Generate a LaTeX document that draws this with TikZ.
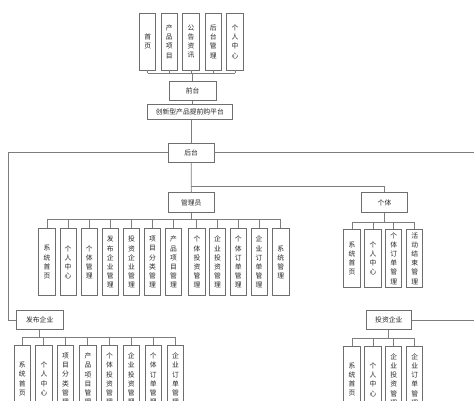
\documentclass[tikz,border=0pt]{standalone}
\usepackage{fontspec}
\newfontfamily\cjk{Noto Sans CJK SC}
\definecolor{linec}{RGB}{125,125,125}
\definecolor{boxc}{RGB}{110,110,110}
\begin{document}
\begin{tikzpicture}[x=1pt,y=-1pt,
  vbox/.style={draw=boxc,line width=0.8pt,minimum width=16.3pt,inner sep=0pt,align=center,anchor=north,
    text=black!85,font=\cjk\fontsize{6.8}{9.2}\selectfont},
  hbox/.style={draw=boxc,line width=0.8pt,inner sep=0pt,align=center,
    text=black!85,font=\cjk\fontsize{6.8}{8}\selectfont},
  conn/.style={draw=linec,line width=0.9pt}]
\useasboundingbox (0,0) rectangle (474,401);
\fill[white] (0,0) rectangle (474,401);

% top row
\foreach \n/\x/\t in {t1/147.7/首\\页, t2/169.3/产\\品\\项\\目, t3/191/公\\告\\资\\讯, t4/213.3/后\\台\\管\\理, t5/235/个\\人\\中\\心}
  \node[vbox,minimum height=57pt] (\n) at (\x,12.7) {\t};

\node[hbox,minimum width=46.7pt,minimum height=18.3pt] (qt) at (192.7,91) {前台};
\node[hbox,minimum width=85pt,minimum height=15pt] (cx) at (189.8,111.8) {创新型产品提前购平台};
\node[hbox,minimum width=45.7pt,minimum height=19pt] (ht) at (191.2,152.8) {后台};
\node[hbox,minimum width=46pt,minimum height=19.6pt] (gly) at (191.3,202.5) {管理员};
\node[hbox,minimum width=45.6pt,minimum height=19.6pt] (gt) at (384.5,202.5) {个体};
\node[hbox,minimum width=47.3pt,minimum height=18.6pt] (fb) at (39.7,320) {发布企业};
\node[hbox,minimum width=45.7pt,minimum height=18.6pt] (tz) at (388.8,320) {投资企业};

% top connectors
\foreach \n in {t1,t2,t3,t4,t5}
  \draw[conn] (\n.south) -- (\n.south |- 0,73.3);
\draw[conn] (t1.south |- 0,73.3) -- (t5.south |- 0,73.3);
\draw[conn] (qt.north) -- (qt.north |- 0,73.3);
\draw[conn] (qt.south) -- (qt.south |- cx.north);
\draw[conn] (ht.north) -- (ht.north |- cx.south);
\draw[conn] (ht.west) -- (8.3,152.8) -- (8.3,320) -- (fb.west);
\draw[conn] (ht.east) -- (480,152.8) -- (480,320) -- (tz.east);
\draw[conn] (ht.south) -- (gly.north);
\draw[conn] (ht.south |- 0,186) -- (gt.north |- 0,186) -- (gt.north);

% admin children
\foreach \n/\x/\t in {m1/47/系\\统\\首\\页, m2/68.1/个\\人\\中\\心, m3/89.2/个\\体\\管\\理,
  m4/110.3/发\\布\\企\\业\\管\\理, m5/131.4/投\\资\\企\\业\\管\\理, m6/152.5/项\\目\\分\\类\\管\\理,
  m7/173.6/产\\品\\项\\目\\管\\理, m8/196.9/个\\体\\投\\资\\管\\理, m9/217.6/企\\业\\投\\资\\管\\理,
  m10/238.3/个\\体\\订\\单\\管\\理, m11/259.1/企\\业\\订\\单\\管\\理, m12/280.8/系\\统\\管\\理}
{
  \node[vbox,minimum height=67pt] (\n) at (\x,228.3) {\t};
  \draw[conn] (\n.north) -- (\n.north |- 0,219);
}
\draw[conn] (m1.north |- 0,219) -- (m12.north |- 0,219);
\draw[conn] (gly.south) -- (gly.south |- 0,219);

% individual children
\foreach \n/\x/\t in {g1/352/系\\统\\首\\页, g2/373/个\\人\\中\\心, g3/393.7/个\\体\\订\\单\\管\\理, g4/414.7/活\\动\\结\\束\\管\\理}
{
  \node[vbox,minimum height=58pt] (\n) at (\x,229) {\t};
  \draw[conn] (\n.north) -- (\n.north |- 0,222.3);
}
\draw[conn] (g1.north |- 0,222.3) -- (g4.north |- 0,222.3);
\draw[conn] (gt.south) -- (gt.south |- 0,222.3);

% publishing enterprise children
\foreach \n/\x/\t in {f1/22.2/系\\统\\首\\页, f2/43.9/个\\人\\中\\心, f3/65.5/项\\目\\分\\类\\管\\理,
  f4/87.9/产\\品\\项\\目\\管\\理, f5/109.5/个\\体\\投\\资\\管\\理, f6/131.2/企\\业\\投\\资\\管\\理,
  f7/153.3/个\\体\\订\\单\\管\\理, f8/175.5/企\\业\\订\\单\\管\\理}
{
  \node[vbox,minimum height=67pt] (\n) at (\x,345) {\t};
  \draw[conn] (\n.north) -- (\n.north |- 0,337.7);
}
\draw[conn] (f1.north |- 0,337.7) -- (f8.north |- 0,337.7);
\draw[conn] (fb.south) -- (fb.south |- 0,337.7);

% investing enterprise children
\foreach \n/\x/\t in {z1/352/系\\统\\首\\页, z2/373/个\\人\\中\\心, z3/393.7/企\\业\\投\\资\\管\\理, z4/414.7/企\\业\\订\\单\\管\\理}
{
  \node[vbox,minimum height=67pt] (\n) at (\x,345.7) {\t};
  \draw[conn] (\n.north) -- (\n.north |- 0,338.3);
}
\draw[conn] (z1.north |- 0,338.3) -- (z4.north |- 0,338.3);
\draw[conn] (tz.south) -- (tz.south |- 0,338.3);
\end{tikzpicture}
\end{document}
